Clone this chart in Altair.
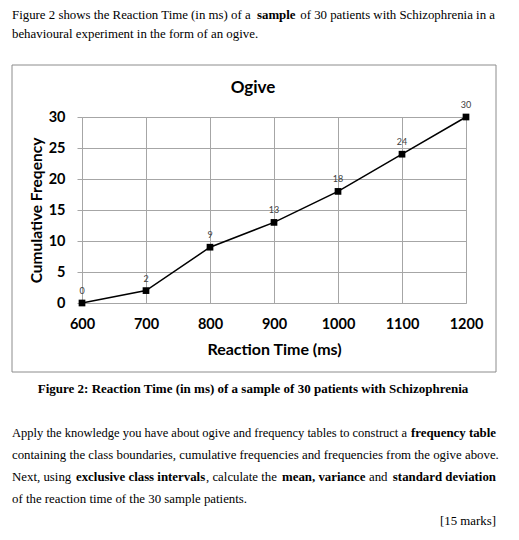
import altair as alt
import pandas as pd

reaction_time = [600, 700, 800, 900, 1000, 1100, 1200]
cum_freq = [0, 2, 9, 13, 18, 24, 30]
x_ticks = [600, 700, 800, 900, 1000, 1100, 1200]
y_ticks = [0, 5, 10, 15, 20, 25, 30]

df = pd.DataFrame({"rt": reaction_time, "cf": cum_freq})

OX, OY = 82, 117  # plot origin on the page
SERIF = "Liberation Serif"
SANS = "Lato"
FS = 12.85
blank = alt.Data(values=[{}])


def txt(s, X, Y, bold=False, size=FS, align="left", font=SERIF, color="black"):
    return alt.Chart(blank).mark_text(
        text=s, align=align, baseline="middle", font=font, fontSize=size,
        fontWeight="bold" if bold else "normal", color=color,
    ).encode(x=alt.value(X - OX), y=alt.value(Y - OY))


xs = alt.X("rt:Q", scale=alt.Scale(domain=[600, 1200], nice=False),
           axis=alt.Axis(values=x_ticks, title="Reaction Time (ms)", format="d",
                         labelFont=SANS, labelFontSize=14.5, labelFontWeight="bold",
                         labelColor="black", labelPadding=14, tickSize=0,
                         labelFlush=False, labelOverlap=False,
                         titleFont=SANS, titleFontSize=16, titleFontWeight="bold",
                         titleColor="black", titleX=192, titleY=46, titleBaseline="middle",
                         gridColor="#a6a6a6", domainColor="#a6a6a6"))
ys = alt.Y("cf:Q", scale=alt.Scale(domain=[0, 30], nice=False),
           axis=alt.Axis(values=y_ticks, title="Cumulative Freqency",
                         labelFont=SANS, labelFontSize=14.5, labelFontWeight="bold",
                         labelColor="black", labelPadding=12, tickSize=5,
                         labelFlush=False, labelOverlap=False,
                         tickColor="#a6a6a6",
                         titleFont=SANS, titleFontSize=15.5, titleFontWeight="bold",
                         titleColor="black", titleX=-46, titleY=93, titleAngle=-90,
                         titleBaseline="middle",
                         gridColor="#a6a6a6", domainColor="#a6a6a6"))

base = alt.Chart(df).encode(x=xs, y=ys)
line = base.mark_line(color="black", strokeWidth=1.5)
pts = base.mark_point(shape="square", filled=True, color="black", size=45, opacity=1)
lbl = base.mark_text(dy=-12, fontSize=9, font=SANS, color="#404040").encode(text="cf:Q")

box = alt.Chart(blank).mark_rect(fillOpacity=0, stroke="#8c8c8c", strokeWidth=1).encode(
    x=alt.value(12 - OX), x2=alt.value(496 - OX), y=alt.value(65 - OY), y2=alt.value(372 - OY))

texts = [
    txt("Figure 2 shows the Reaction Time (in ms) of a", 12, 15),
    txt("sample", 257, 15, bold=True),
    txt("of 30 patients with Schizophrenia in a", 495, 15, align="right"),
    txt("behavioural experiment in the form of an ogive.", 12, 34),
    txt("Ogive", 253, 88, bold=True, size=17, align="center", font=SANS),
    txt("Figure 2: Reaction Time (in ms) of a sample of 30 patients with Schizophrenia",
        253, 389, bold=True, size=13, align="center"),
    txt("Apply the knowledge you have about ogive and frequency tables to construct a", 12, 433, size=12.5),
    txt("frequency table", 496, 433, bold=True, align="right"),
    txt("containing the class boundaries, cumulative frequencies and frequencies from the ogive above.", 12, 455),
    txt("Next, using", 12, 477),
    txt("exclusive class intervals", 76, 477, bold=True),
    txt(", calculate the", 206, 477),
    txt("mean, variance", 282, 477, bold=True),
    txt("and", 369, 477),
    txt("standard deviation", 496, 477, bold=True, align="right"),
    txt("of the reaction time of the 30 sample patients.", 12, 499),
    txt("[15 marks]", 496, 521, align="right"),
]

chart = alt.layer(box, line, pts, lbl, *texts).properties(
    width=384, height=186,
    padding={"left": 74, "top": 109, "right": 45, "bottom": 230},
    autosize=alt.AutoSizeParams(type="none"),
).configure_view(stroke=None)

chart.save("out.html", embed_options={"renderer": "svg", "actions": False})
